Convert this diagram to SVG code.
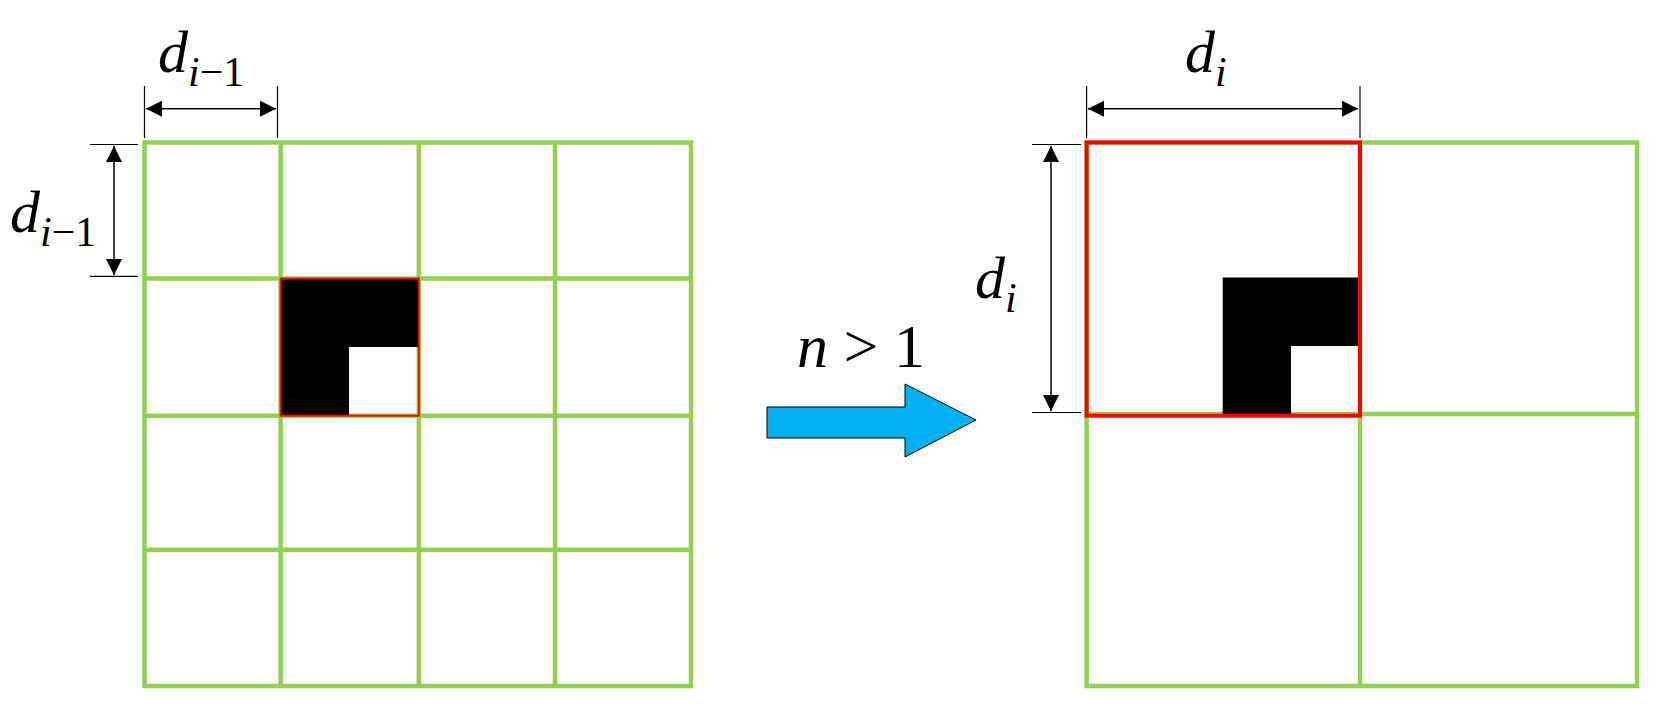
<svg xmlns="http://www.w3.org/2000/svg" width="1654" height="710" viewBox="0 0 1654 710">
<style>
.g{stroke:#92d050;stroke-width:4.5;fill:none}
.r{stroke:#ff0000;fill:none}
.t{stroke:#000;stroke-width:1.2;fill:none}
.dim{stroke:#000;stroke-width:1.5;fill:none;marker-start:url(#a);marker-end:url(#a)}
text{font-family:"Liberation Serif",serif;font-style:italic;fill:#000}
.up{font-style:normal}
</style>
<defs>
<marker id="a" viewBox="0 0 10 10" refX="10" refY="5" markerWidth="16" markerHeight="16" markerUnits="userSpaceOnUse" orient="auto-start-reverse"><path d="M0,0L10,5L0,10z" fill="#000"/></marker>
</defs>
<g id="left-grid">
<rect class="g" x="144.5" y="142.5" width="546.5" height="543.5"/>
<path class="g" d="M280.6,142.5V686M418.8,142.5V686M555,142.5V686M144.5,278.5H691M144.5,415.7H691M144.5,549.7H691"/>
<path d="M280.6,278.5H418.8V347H349V415.7H280.6z" fill="#000"/>
<rect class="r" stroke-width="2" x="280.6" y="278.5" width="138.2" height="137.2"/>
</g>
<g id="right-grid">
<rect class="g" x="1086.6" y="142.5" width="550.4" height="543.5"/>
<path class="g" d="M1360,142.5V686M1086.6,414H1637"/>
<path d="M1222.7,277.5H1360V346H1291V415.7H1222.7z" fill="#000"/>
<rect class="r" stroke-width="4" x="1086.6" y="142.5" width="273.4" height="273.2"/>
</g>
<g id="arrow">
<path d="M767,407H905V384L976,420L905,457V438H767z" fill="#00b0f0" stroke="#000" stroke-width="1"/>
</g>
<g id="connectors">
<path class="t" d="M144.5,86V138M277.5,86V138M90,144.5H138M90,276.4H138M1086.6,86V138M1360,86V138M1032,144.5H1081M1032,412.5H1081"/>
<line class="dim" x1="146" y1="108.7" x2="276" y2="108.7"/>
<line class="dim" x1="114" y1="146" x2="114" y2="275"/>
<line class="dim" x1="1088" y1="108.7" x2="1358" y2="108.7"/>
<line class="dim" x1="1051" y1="146" x2="1051" y2="411"/>
</g>
<g id="labels">
<text x="158" y="72" font-size="60">d<tspan font-size="42" dy="14">i</tspan><tspan class="up" font-size="42">−1</tspan></text>
<text x="10" y="232" font-size="60">d<tspan font-size="42" dy="14">i</tspan><tspan class="up" font-size="42">−1</tspan></text>
<text x="1185" y="72" font-size="60">d<tspan font-size="42" dy="14">i</tspan></text>
<text x="975" y="298" font-size="60">d<tspan font-size="42" dy="14">i</tspan></text>
<text x="797" y="367" font-size="62">n <tspan class="up">&gt; 1</tspan></text>
</g>
</svg>
